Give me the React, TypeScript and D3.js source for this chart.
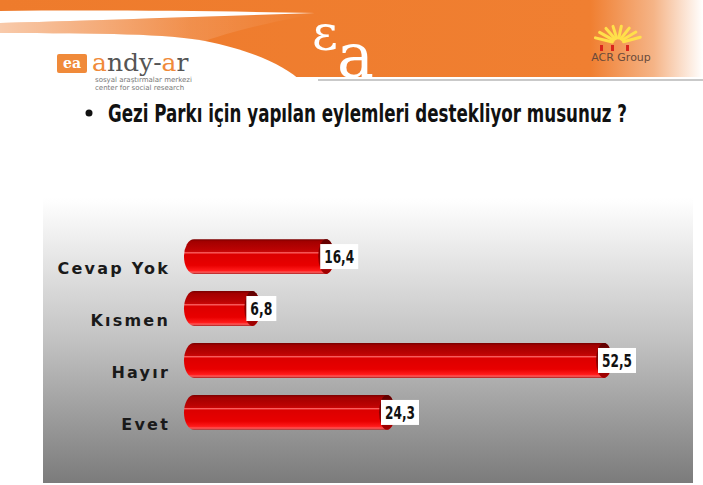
import React from "react";
import { scaleBand, scaleLinear } from "d3";

// survey answers
const categories = ["Cevap Yok", "Kısmen", "Hayır", "Evet"];
const values = [16.4, 6.8, 52.5, 24.3];
const valueLabels = ["16,4", "6,8", "52,5", "24,3"];
const title = "Gezi Parkı için yapılan eylemleri destekliyor musunuz ?";

const W = 703;
const H = 485;
const panel = { x: 43, y: 198, w: 650, h: 285 };

const App: React.FC = () => {
  const x = scaleLinear().domain([0, 52.5]).range([194, 598]);
  const y = scaleBand<string>()
    .domain(categories)
    .range([222, 447])
    .paddingInner(0.33)
    .paddingOuter(0.33);
  const bw = y.bandwidth();
  const r = bw / 2;

  return (
    <div style={{ position: "absolute", left: 0, top: 0 }}>
      <svg width={W} height={H} style={{ display: "block" }}>
        <defs>
          <linearGradient id="banner" x1="0" y1="0" x2="1" y2="0">
            <stop offset="0" stopColor="#ee7b2c" />
            <stop offset="0.84" stopColor="#f07f31" />
            <stop offset="0.93" stopColor="#f5b487" />
            <stop offset="1" stopColor="#ffffff" />
          </linearGradient>
          <linearGradient id="fadeBand" x1="0" y1="0" x2="1" y2="0">
            <stop offset="0" stopColor="#ffffff" stopOpacity={0.6} />
            <stop offset="0.6" stopColor="#ffffff" stopOpacity={0.15} />
            <stop offset="1" stopColor="#ffffff" stopOpacity={0} />
          </linearGradient>
          <linearGradient id="panelGrad" x1="0" y1="0" x2="0" y2="1">
            <stop offset="0" stopColor="#ffffff" />
            <stop offset="0.12" stopColor="#f1f1f1" />
            <stop offset="0.5" stopColor="#c2c2c2" />
            <stop offset="1" stopColor="#7b7b7b" />
          </linearGradient>
          <linearGradient id="barGrad" x1="0" y1="0" x2="0" y2="1">
            <stop offset="0" stopColor="#7a0000" />
            <stop offset="0.07" stopColor="#a30000" />
            <stop offset="0.3" stopColor="#bb0303" />
            <stop offset="0.36" stopColor="#c80606" />
            <stop offset="0.39" stopColor="#ff6a6a" />
            <stop offset="0.43" stopColor="#dc0000" />
            <stop offset="0.75" stopColor="#e80000" />
            <stop offset="0.9" stopColor="#ff1a1a" />
            <stop offset="0.95" stopColor="#ff5a5a" />
            <stop offset="1" stopColor="#b02020" />
          </linearGradient>
          <linearGradient id="capGrad" x1="0" y1="0" x2="0" y2="1">
            <stop offset="0" stopColor="#5e0000" />
            <stop offset="0.5" stopColor="#8a0000" />
            <stop offset="1" stopColor="#a30000" />
          </linearGradient>
        </defs>

        {/* header banner */}
        <rect x={0} y={0} width={W} height={77} fill="url(#banner)" />
        <path d="M0,11 C100,10 220,11 315,13 C220,16 100,20 0,23 Z" fill="#ffffff" />
        <path d="M0,23 C100,20 220,16 315,14 C260,24 225,34 205,41 C170,34 100,33 0,33 Z"
          fill="url(#fadeBand)" />
        <path d="M0,33 C100,33 170,34 205,41 C250,50 285,65 302,82 L0,82 Z" fill="#ffffff" />
        <text x={312} y={50} fontFamily="DejaVu Serif" fontSize={50} fill="#ffffff">ɛ</text>
        <text x={337} y={77} fontFamily="DejaVu Serif" fontSize={62} fill="#ffffff">a</text>
        <line x1={318} x2={W} y1={80} y2={80} stroke="#c9c9c9" strokeWidth={2} />

        {/* andy-ar logo */}
        <rect x={57} y={54} width={30} height={19} rx={2} fill="#f08a3a" />
        <text x={72} y={68} textAnchor="middle" fontFamily="DejaVu Serif" fontWeight="bold"
          fontSize={14} fill="#ffffff">ea</text>
        <text x={92} y={71} fontFamily="DejaVu Serif" fontSize={25} fill="#555555">
          <tspan fill="#f08a3a">a</tspan>ndy-<tspan fill="#f08a3a">a</tspan>r
        </text>
        <text x={95} y={82} fontFamily="DejaVu Sans" fontSize={7} fill="#777777">
          sosyal araştırmalar merkezi
        </text>
        <text x={95} y={90} fontFamily="DejaVu Sans" fontSize={7} fill="#777777">
          center for social research
        </text>

        {/* ACR Group logo */}
        <g stroke="#ffe04a" strokeWidth={3} strokeLinecap="round">
          {[-70, -50, -30, -12, 8, 28, 48, 68].map((a, i) => {
            const rad = ((a - 90) * Math.PI) / 180;
            return (
              <line key={i} x1={618 + Math.cos(rad) * 6} y1={44 + Math.sin(rad) * 6}
                x2={618 + Math.cos(rad) * 24} y2={44 + Math.sin(rad) * 18} />
            );
          })}
        </g>
        <g fill="#d9261c">
          <rect x={600} y={45} width={3} height={6} />
          <rect x={611} y={45} width={3} height={6} />
          <rect x={626} y={45} width={3} height={6} />
        </g>
        <text x={621} y={61} textAnchor="middle" fontFamily="DejaVu Sans" fontSize={11}
          fill="#6a4a3a">ACR Group</text>

        {/* question */}
        <circle cx={89} cy={113} r={3.5} fill="#111111" />
        <g transform="translate(108,122) scale(1,1.32)">
          <text x={0} y={0} fontFamily="DejaVu Sans Condensed" fontWeight="bold" fontSize={19}
            fill="#111111" textLength={519} lengthAdjust="spacingAndGlyphs">{title}</text>
        </g>

        {/* chart panel */}
        <rect x={panel.x} y={panel.y} width={panel.w} height={panel.h} fill="url(#panelGrad)" />

        {categories.map((c, i) => {
          const top = y(c) as number;
          const x0 = x(0);
          const xv = x(values[i]);
          const xe = xv + 6;
          const bodyPath = `M${x0},${top} L${xe},${top} A8,${r} 0 0 1 ${xe},${top + bw} L${x0},${top + bw} A10,${r} 0 0 1 ${x0},${top} Z`;
          const boxW = valueLabels[i].length * 8 + 6;
          const cy = top + r;
          return (
            <g key={c}>
              <path d={bodyPath} fill="url(#barGrad)" />
              <ellipse cx={xe} cy={cy} rx={8} ry={r} fill="url(#capGrad)" />
              <rect x={xv} y={cy - 12.5} width={boxW} height={25} fill="#ffffff" />
              <text x={xv + boxW / 2} y={cy + 6.5} textAnchor="middle"
                fontFamily="DejaVu Sans Condensed" fontWeight="bold" fontSize={17}
                textLength={boxW - 8} lengthAdjust="spacingAndGlyphs"
                fill="#111111">{valueLabels[i]}</text>
              <text x={170} y={top + bw} textAnchor="end" fontFamily="DejaVu Sans"
                fontWeight="bold" fontSize={16} letterSpacing={2.2} fill="#1a1a1a">{c}</text>
            </g>
          );
        })}
      </svg>
    </div>
  );
};

export default App;
